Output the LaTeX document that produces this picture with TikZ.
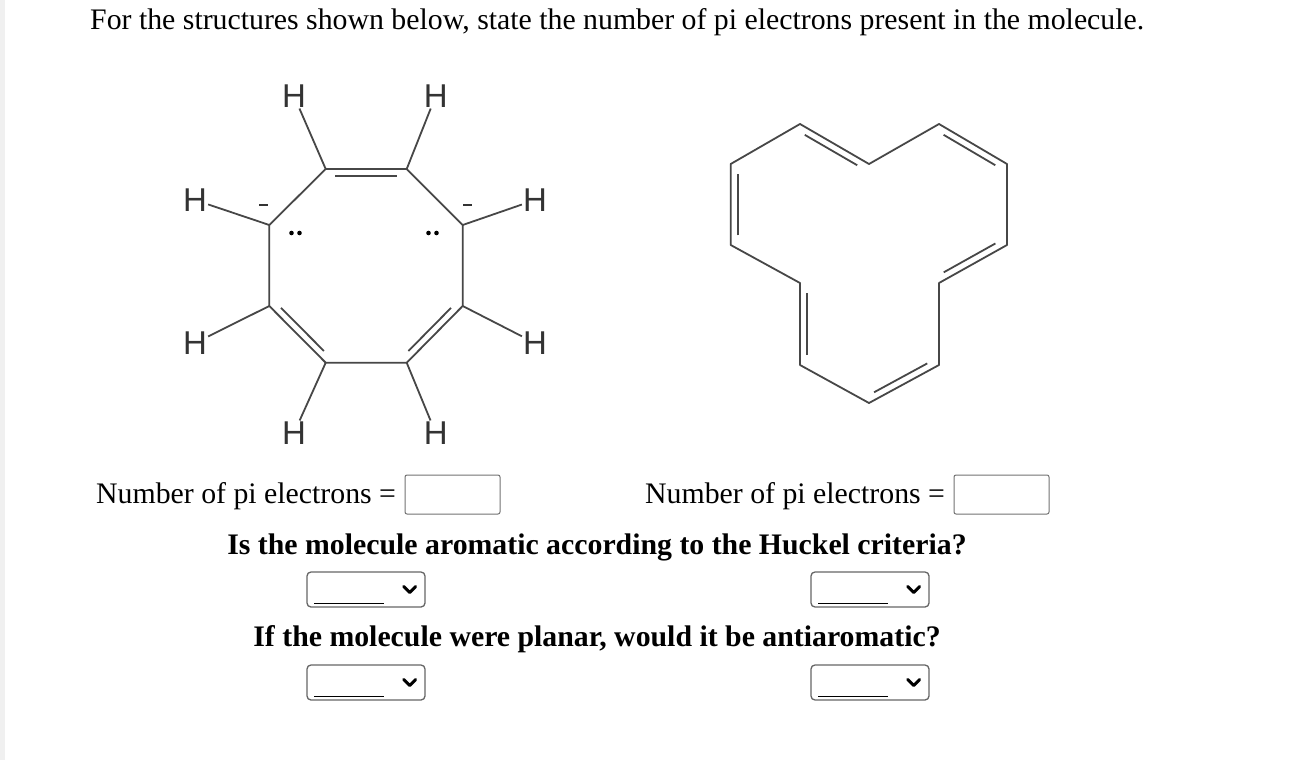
\documentclass[tikz,border=0pt]{standalone}
\usepackage{fontspec}
\setmainfont{Liberation Serif}
\newfontfamily\hfont{Liberation Sans}
\usetikzlibrary{calc}
\tikzset{
 bond/.style={draw=black!72,line width=1.8pt},
 hatom/.style={font=\hfont\fontsize{33}{33}\selectfont,text=black!80,inner sep=1pt},
 txt/.style={font=\fontsize{29.8}{32}\selectfont,inner sep=0pt,anchor=base west},
 btxt/.style={font=\bfseries\fontsize{29.8}{32}\selectfont,inner sep=0pt,anchor=base},
 ansbox/.style={draw=black!55,line width=1pt,rounded corners=2pt,minimum width=95pt,minimum height=39pt,inner sep=0pt},
 dropbox/.style={draw=black!60,line width=1.3pt,rounded corners=4pt,minimum width=118pt,minimum height=35pt,inner sep=0pt}
}
\newcommand{\inb}[3]{\draw[bond] ($(#1)!0.12!(#2)!7pt!#3:(#2)$) -- ($(#2)!0.12!(#1)!7pt!-#3:(#1)$);}
\newcommand{\dropdown}[2]{%
 \node[dropbox] (#1) at (#2) {};
 \draw[black,line width=1.2pt] ($(#1.west)+(8,14)$) -- ($(#1.west)+(78,14)$);
 \draw[black,line width=3pt,line cap=round,line join=round] ($(#1.east)+(-22,-3)$) -- ($(#1.east)+(-16,3)$) -- ($(#1.east)+(-10,-3)$);}
\begin{document}
\begin{tikzpicture}[x=1pt,y=-1pt]
\path[fill=white] (0,0) rectangle (1304,760);
\fill[black!6] (0,0) rectangle (5,760);
\node[txt] (title) at (90,30) {For the structures shown below, state the number of pi electrons present in the molecule.};
% octagon
\coordinate (c1) at (325.7,169); \coordinate (c2) at (406.7,169);
\coordinate (c3) at (462.7,225); \coordinate (c4) at (462.7,306);
\coordinate (c5) at (406.7,362.7); \coordinate (c6) at (325.7,362.7);
\coordinate (c7) at (269.3,306); \coordinate (c8) at (269.3,225);
\draw[bond,line join=round] (c1)--(c2)--(c3)--(c4)--(c5)--(c6)--(c7)--(c8)--cycle;
\inb{c1}{c2}{-90}\inb{c7}{c6}{90}\inb{c4}{c5}{-90}
\node[hatom] (h1) at (294,96) {H};
\node[hatom] (h2) at (435.7,96) {H};
\node[hatom] (h3) at (535,200) {H};
\node[hatom] (h4) at (535,343) {H};
\node[hatom] (h5) at (435.7,433) {H};
\node[hatom] (h6) at (294,433) {H};
\node[hatom] (h7) at (195,343) {H};
\node[hatom] (h8) at (195,200) {H};
\foreach \c/\h in {c1/h1,c2/h2,c3/h3,c4/h4,c5/h5,c6/h6,c7/h7,c8/h8}{\draw[bond] (\c) -- (\h);}
\draw[black!80,line width=1.5pt] (259,205) -- (268,205);
\draw[black!80,line width=1.5pt] (463,205) -- (472,205);
\fill (291.5,233) circle (2.3pt) (299.5,233) circle (2.3pt);
\fill (428.5,233) circle (2.3pt) (436.5,233) circle (2.3pt);
% 12-ring
\coordinate (a) at (800,124); \coordinate (b) at (869,164);
\coordinate (c) at (939,124); \coordinate (d) at (1007,164);
\coordinate (e) at (1007,245); \coordinate (f) at (939,283);
\coordinate (g) at (939,365); \coordinate (h) at (869,403);
\coordinate (i) at (800,365); \coordinate (j) at (800,283);
\coordinate (k) at (730.7,245); \coordinate (l) at (730.7,164);
\draw[bond,line join=round] (a)--(b)--(c)--(d)--(e)--(f)--(g)--(h)--(i)--(j)--(k)--(l)--cycle;
\inb{a}{b}{-90}\inb{c}{d}{-90}\inb{e}{f}{-90}\inb{g}{h}{-90}\inb{i}{j}{-90}\inb{k}{l}{-90}
% answers
\node[txt] (n1) at (96,503) {Number of pi electrons =};
\node[ansbox] (box1) at (452.5,494.5) {};
\node[txt] (n2) at (645,503) {Number of pi electrons =};
\node[ansbox] (box2) at (1001.5,494.5) {};
\node[btxt] (q1) at (597,554) {Is the molecule aromatic according to the Huckel criteria?};
\dropdown{d1}{366,589.5}
\dropdown{d2}{870,589.5}
\node[btxt] (q2) at (597,646) {If the molecule were planar, would it be antiaromatic?};
\dropdown{d3}{366,682.5}
\dropdown{d4}{870,682.5}
\end{tikzpicture}
\end{document}
